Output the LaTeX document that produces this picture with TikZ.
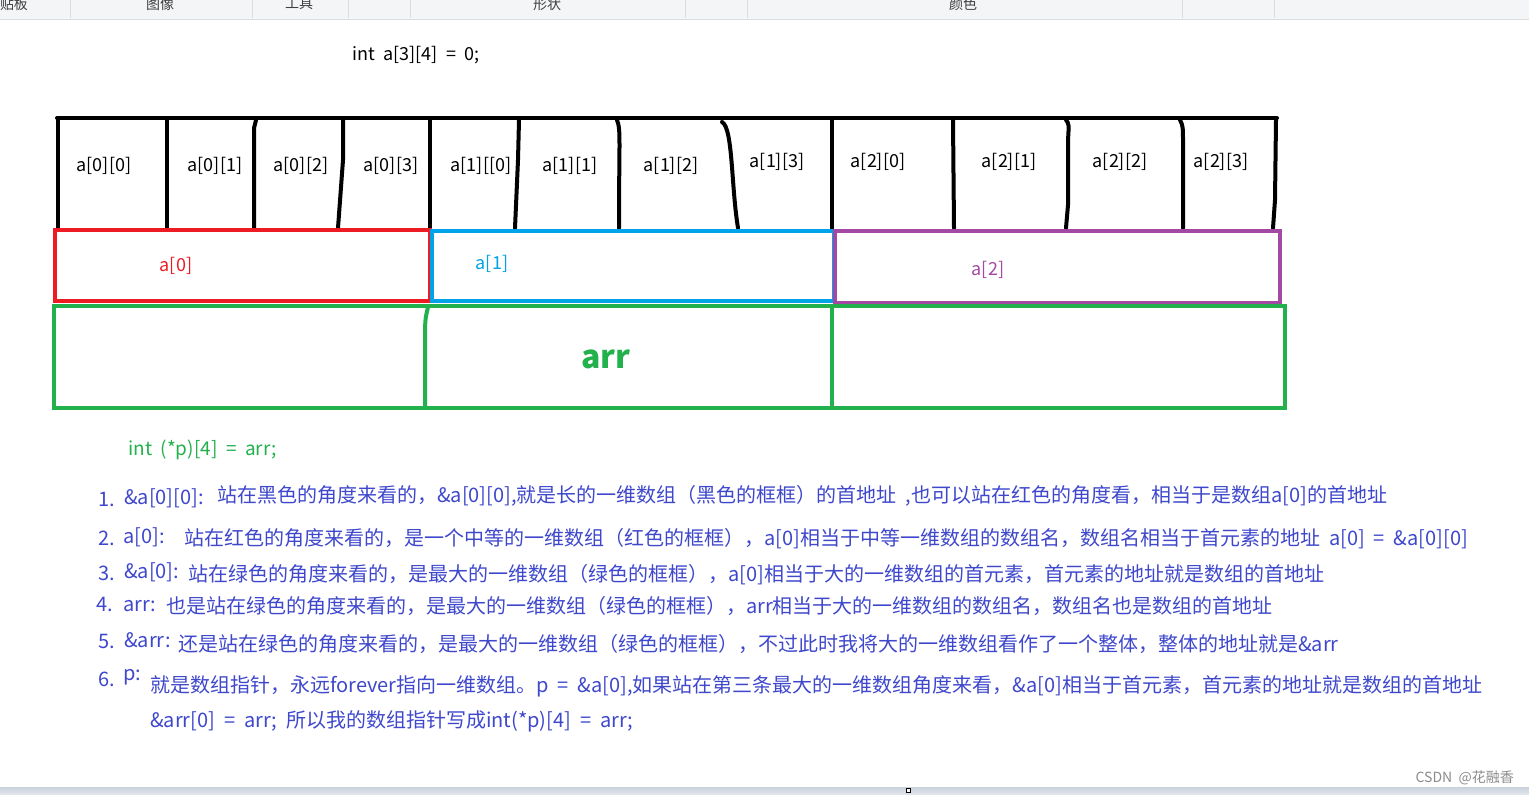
\documentclass[tikz,border=0pt]{standalone}
\usepackage{fontspec}
\setmainfont{Noto Sans CJK SC}[WordSpace=2]
\definecolor{pred}{HTML}{ED1C24}
\definecolor{pblue}{HTML}{00A2E8}
\definecolor{ppurple}{HTML}{A349A4}
\definecolor{pgreen}{HTML}{22B14C}
\definecolor{pindigo}{HTML}{3F48CC}
\definecolor{barbg}{HTML}{F4F5F7}
\definecolor{barline}{HTML}{DADCE0}
\definecolor{botbar}{HTML}{C9D1DC}
\begin{document}
\begin{tikzpicture}[x=1pt,y=-1pt,
  blk/.style={line width=4pt,black,line cap=round,line join=round},
  box/.style={line width=4pt},
  cell/.style={inner sep=0pt,font=\fontsize{18}{20}\selectfont,text=black},
  lbl/.style={inner sep=0pt,font=\fontsize{18}{20}\selectfont},
  item/.style={inner sep=0pt,anchor=west,text=pindigo,font=\fontsize{20}{24}\selectfont},
  tool/.style={inner sep=0pt,text=black!75,font=\fontsize{14}{16}\selectfont},
  sep/.style={barline,line width=0.8pt}]
\useasboundingbox (0,0) rectangle (1529,795);
\clip (0,0) rectangle (1529,795);
\fill[white] (0,0) rectangle (1529,795);
% toolbar
\fill[barbg] (0,0) rectangle (1529,19);
\draw[barline,line width=1pt] (0,19.5) -- (1529,19.5);
\foreach \x in {70,252,348,410,685,747,1182,1274} \draw[sep] (\x,0) -- (\x,18);
\node[tool] (t1) at (14,4) {贴板};
\node[tool] (t2) at (160,4) {图像};
\node[tool] (t3) at (299,4) {工具};
\node[tool] (t4) at (547,4) {形状};
\node[tool] (t5) at (963,4) {颜色};
% title
\node[cell] (title) at (416,55) {int a[3][4] = 0;};
% black grid
\draw[blk] (57,118) -- (1277,118);
\draw[blk] (58,119) -- (58,228);
\draw[blk] (167,119) -- (167,228);
\draw[blk] (256,120) -- (254,128) -- (254,228);
\draw[blk] (343,120) -- (343,160) -- (338,228);
\draw[blk] (430,120) -- (430,228);
\draw[blk] (519,120) -- (518,160) -- (515,228);
\draw[blk] (617,120) .. controls (621,130) and (619,140) .. (619,228);
\draw[blk] (722,122) .. controls (733,128) and (731,185) .. (738,228);
\draw[blk] (832,120) -- (832,228);
\draw[blk] (953,120) -- (954,228);
\draw[blk] (1066,120) .. controls (1069,124) .. (1068,140) -- (1068,205) -- (1066,228);
\draw[blk] (1180,120) .. controls (1183,126) .. (1183,145) -- (1183,228);
\draw[blk] (1276,120) -- (1275,200) -- (1273,228);
\node[cell] (c00) at (104,166) {a[0][0]};
\node[cell] (c01) at (215,166) {a[0][1]};
\node[cell] (c02) at (301,166) {a[0][2]};
\node[cell] (c03) at (391,166) {a[0][3]};
\node[cell] (c10) at (481,166) {a[1][[0]};
\node[cell] (c11) at (570,166) {a[1][1]};
\node[cell] (c12) at (671,166) {a[1][2]};
\node[cell] (c13) at (777,162) {a[1][3]};
\node[cell] (c20) at (878,162) {a[2][0]};
\node[cell] (c21) at (1009,162) {a[2][1]};
\node[cell] (c22) at (1120,162) {a[2][2]};
\node[cell] (c23) at (1221,162) {a[2][3]};
% colored rows
\draw[box,pred] (55,230) rectangle (430,301);
\draw[box,pblue] (432,231) rectangle (834,301);
\draw[box,ppurple] (835,231) rectangle (1280,303);
\node[lbl,text=pred] (l0) at (176,266) {a[0]};
\node[lbl,text=pblue] (l1) at (492,264) {a[1]};
\node[lbl,text=ppurple] (l2) at (988,270) {a[2]};
\draw[box,pgreen] (54,306) rectangle (1285,408);
\draw[box,pgreen] (428,307) .. controls (425,320) .. (425,345) -- (425,408);
\draw[box,pgreen] (832,307) -- (832,408);
\node[inner sep=0pt,text=pgreen,font=\fontsize{32}{36}\selectfont\bfseries] (arr) at (606,359) {arr};
% texts
\node[item,text=pgreen,font=\fontsize{19}{22}\selectfont] (ptr) at (128,450) {int (*p)[4] = arr;};
\node[item] (n1) at (98,499) {1.};
\node[item] (k1) at (124,498) {\&a[0][0]:};
\node[item] (t1x) at (217,496) {站在黑色的角度来看的，\&a[0][0],就是长的一维数组（黑色的框框）的首地址 ,也可以站在红色的角度看，相当于是数组a[0]的首地址};
\node[item] (n2) at (98,538) {2.};
\node[item] (k2) at (123,537) {a[0]:};
\node[item] (t2x) at (184,539) {站在红色的角度来看的，是一个中等的一维数组（红色的框框），a[0]相当于中等一维数组的数组名，数组名相当于首元素的地址 a[0] = \&a[0][0]};
\node[item] (n3) at (98,573) {3.};
\node[item] (k3) at (124,572) {\&a[0]:};
\node[item] (t3x) at (188,575) {站在绿色的角度来看的，是最大的一维数组（绿色的框框），a[0]相当于大的一维数组的首元素，首元素的地址就是数组的首地址};
\node[item] (n4) at (96,604) {4.};
\node[item] (k4) at (123,606) {arr:};
\node[item] (t4x) at (166,606) {也是站在绿色的角度来看的，是最大的一维数组（绿色的框框），arr相当于大的一维数组的数组名，数组名也是数组的首地址};
\node[item] (n5) at (98,641) {5.};
\node[item] (k5) at (124,640) {\&arr:};
\node[item] (t5x) at (178,644) {还是站在绿色的角度来看的，是最大的一维数组（绿色的框框），不过此时我将大的一维数组看作了一个整体，整体的地址就是\&arr};
\node[item] (n6) at (98,679) {6.};
\node[item] (k6) at (123,677) {p:};
\node[item] (t6x) at (150,686) {就是数组指针，永远forever指向一维数组。p = \&a[0],如果站在第三条最大的一维数组角度来看，\&a[0]相当于首元素，首元素的地址就是数组的首地址};
\node[item] (t6y) at (150,721) {\&arr[0] = arr; 所以我的数组指针写成int(*p)[4] = arr;};
% watermark
\node[inner sep=0pt,anchor=east,text=black!45,font=\fontsize{14}{16}\selectfont] (wm) at (1514,778) {CSDN @花融香};
% bottom bar
\shade[top color=botbar,bottom color=botbar!50] (0,787) rectangle (1529,795);
\draw[black,line width=0.8pt,fill=white] (906,788) rectangle (910,792);
\end{tikzpicture}
\end{document}
